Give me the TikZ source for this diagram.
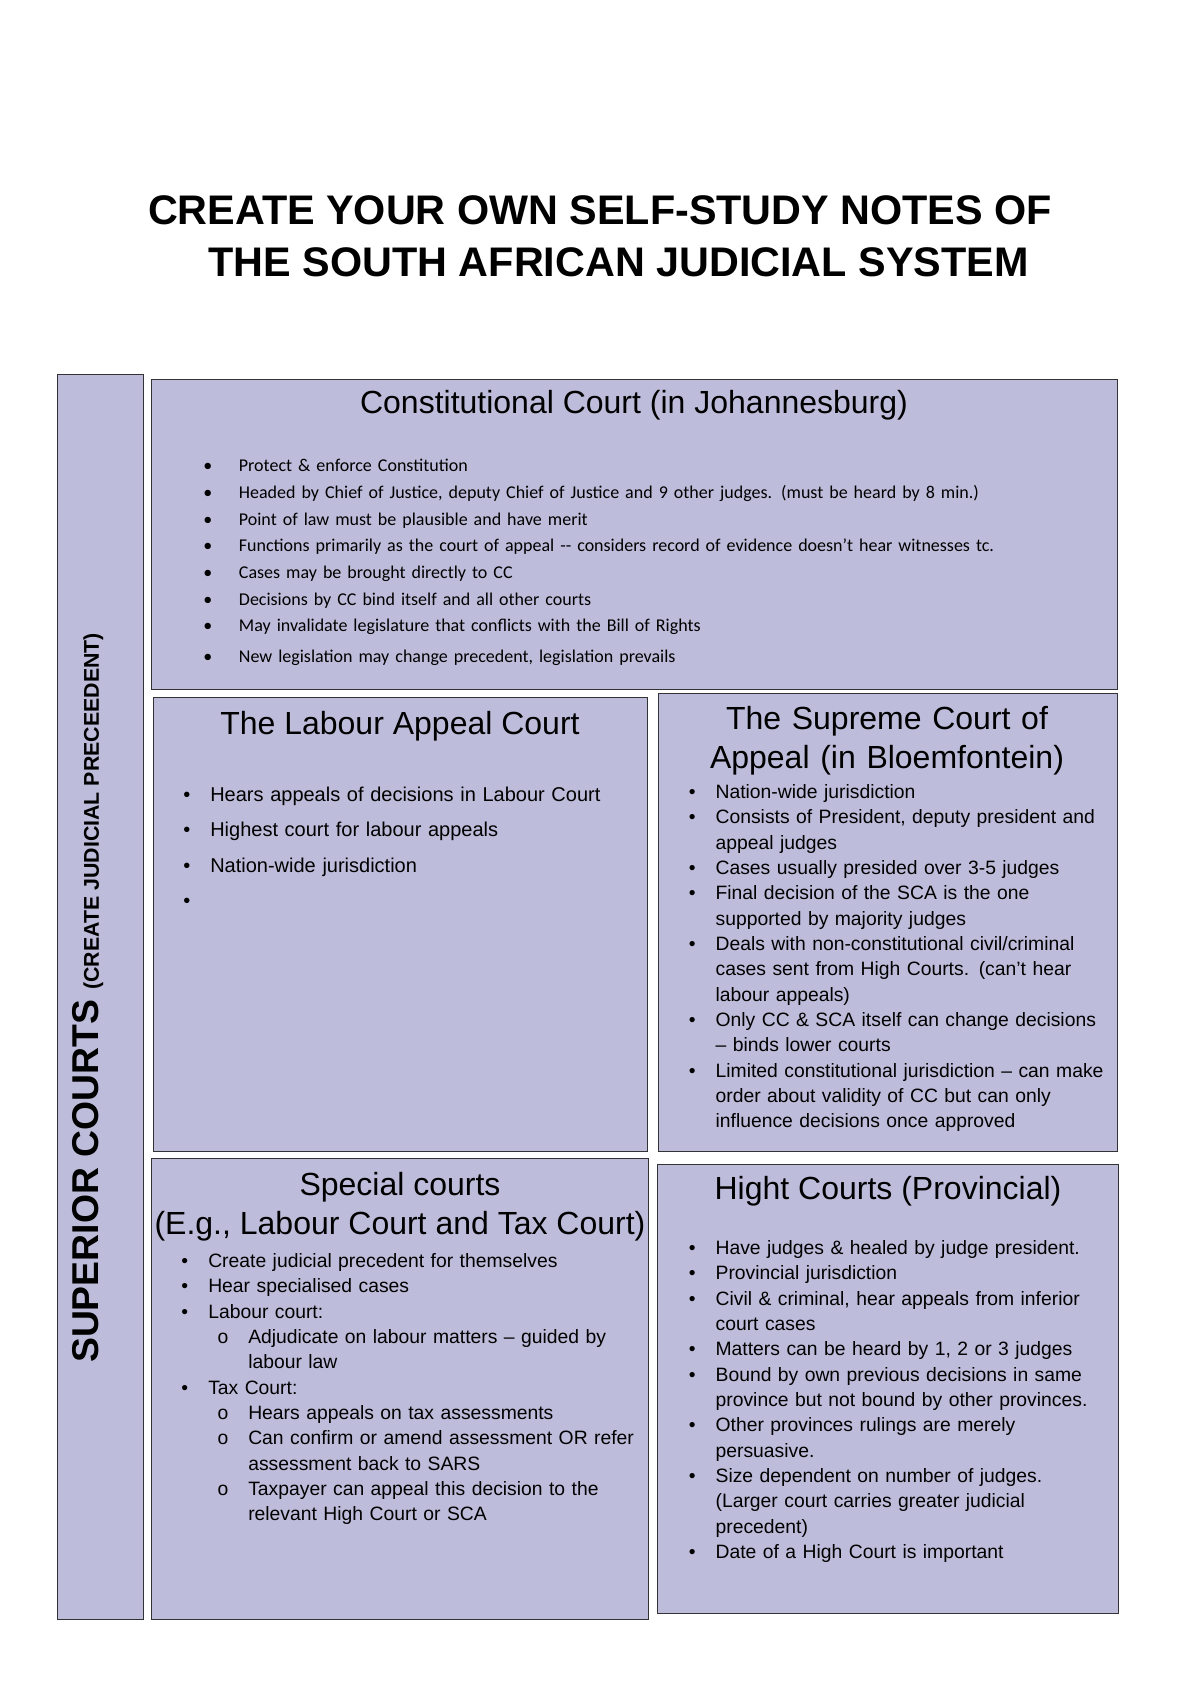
\documentclass[tikz,border=0pt]{standalone}
\usepackage{fontspec}
\setmainfont{Liberation Sans}
\newfontfamily\calfont{Carlito}
\usepackage{enumitem}
\setlist[itemize]{nosep,leftmargin=24pt,labelsep=15pt}
\setlist[itemize,1]{label=\textbullet}
\setlist[itemize,2]{label=o,leftmargin=30pt}
\usetikzlibrary{positioning}
\colorlet{boxfill}{blue!30!gray!40!white}

\begin{document}
\begin{tikzpicture}[x=0.75pt,y=-0.75pt,
        courtbox/.style={rectangle, draw=black!80, thick, fill=boxfill, anchor=north west, inner sep=0pt},
        heading/.style={font=\fontsize{24}{29}\selectfont, align=center, anchor=north},
        notes/.style={font=\fontsize{14.5}{19}\selectfont, align=left, anchor=north west, inner sep=0pt}
    ]
    \useasboundingbox (0,0) rectangle (1200,1696);

    % Title
    \node[font=\fontsize{31}{39}\selectfont\bfseries, align=center] (title) at (600,236)
        {CREATE YOUR OWN SELF-STUDY NOTES OF\\ \hspace*{0.9em}THE SOUTH AFRICAN JUDICIAL SYSTEM};

    % Side bar
    \node[courtbox, minimum width=86*0.75pt, minimum height=1245*0.75pt] (side) at (57,374) {};
    \node[rotate=90, font=\bfseries] (sidetext) at (88,998)
        {\fontsize{28}{30}\selectfont SUPERIOR COURTS \fontsize{16}{18}\selectfont(CREATE JUDICIAL PRECEEDENT)};

    % Boxes
    \node[courtbox, minimum width=966*0.75pt, minimum height=310*0.75pt] (cc) at (151,379) {};
    \node[courtbox, minimum width=494*0.75pt, minimum height=454*0.75pt] (lac) at (153,697) {};
    \node[courtbox, minimum width=459*0.75pt, minimum height=458*0.75pt] (sca) at (658,693) {};
    \node[courtbox, minimum width=497*0.75pt, minimum height=461*0.75pt] (special) at (151,1158) {};
    \node[courtbox, minimum width=461*0.75pt, minimum height=449*0.75pt] (high) at (657,1164) {};

    % Constitutional Court
    \node[heading] (cchead) at (634,386) {Constitutional Court (in Johannesburg)};
    \node[notes, font=\calfont\fontsize{13.5}{20}\selectfont, text width=860*0.75pt] (ccnotes) at (200,445) {%
        \begin{itemize}[leftmargin=29pt,labelsep=20pt]
        \item Protect \& enforce Constitution
        \item Headed by Chief of Justice, deputy Chief of Justice and 9 other judges. (must be heard by 8 min.)
        \item Point of law must be plausible and have merit
        \item Functions primarily as the court of appeal -- considers record of evidence doesn’t hear witnesses tc.
        \item Cases may be brought directly to CC
        \item Decisions by CC bind itself and all other courts
        \item May invalidate legislature that conflicts with the Bill of Rights
        \item[\textbullet] \vspace{3pt}New legislation may change precedent, legislation prevails
        \end{itemize}};

    % Labour Appeal Court
    \node[heading] (lachead) at (400,707) {The Labour Appeal Court};
    \node[notes, font=\fontsize{15}{26.5}\selectfont, text width=470*0.75pt] (lacnotes) at (166,766) {%
        \begin{itemize}[leftmargin=33pt]
        \item Hears appeals of decisions in Labour Court
        \item Highest court for labour appeals
        \item Nation-wide jurisdiction
        \item[\textbullet] \mbox{}
        \end{itemize}};

    % Supreme Court of Appeal
    \node[heading, text width=440*0.75pt] (scahead) at (887,702) {The Supreme Court of Appeal (in Bloemfontein)};
    \node[notes, text width=440*0.75pt] (scanotes) at (670,773) {%
        \begin{itemize}[leftmargin=34pt]
        \item Nation-wide jurisdiction
        \item Consists of President, deputy president and appeal judges
        \item Cases usually presided over 3-5 judges
        \item Final decision of the SCA is the one supported by majority judges
        \item Deals with non-constitutional civil/criminal cases sent from High Courts. (can’t hear labour appeals)
        \item Only CC \& SCA itself can change decisions -- binds lower courts
        \item Limited constitutional jurisdiction -- can make order about validity of CC but can only influence decisions once approved
        \end{itemize}};

    % Special courts
    \node[heading] (spechead) at (400,1168) {Special courts\\(E.g., Labour Court and Tax Court)};
    \node[notes, text width=475*0.75pt] (specnotes) at (164,1242) {%
        \begin{itemize}[leftmargin=33pt]
        \item Create judicial precedent for themselves
        \item Hear specialised cases
        \item Labour court:
          \begin{itemize}
          \item Adjudicate on labour matters -- guided by labour law
          \end{itemize}
        \item Tax Court:
          \begin{itemize}
          \item Hears appeals on tax assessments
          \item Can confirm or amend assessment OR refer assessment back to SARS
          \item Taxpayer can appeal this decision to the relevant High Court or SCA
          \end{itemize}
        \end{itemize}};

    % High Courts
    \node[heading] (highhead) at (888,1172) {Hight Courts (Provincial)};
    \node[notes, text width=440*0.75pt] (highnotes) at (670,1229) {%
        \begin{itemize}[leftmargin=34pt]
        \item Have judges \& healed by judge president.
        \item Provincial jurisdiction
        \item Civil \& criminal, hear appeals from inferior court cases
        \item Matters can be heard by 1, 2 or 3 judges
        \item Bound by own previous decisions in same province but not bound by other provinces.
        \item Other provinces rulings are merely persuasive.
        \item Size dependent on number of judges. (Larger court carries greater judicial precedent)
        \item Date of a High Court is important
        \end{itemize}};

\end{tikzpicture}
\end{document}
